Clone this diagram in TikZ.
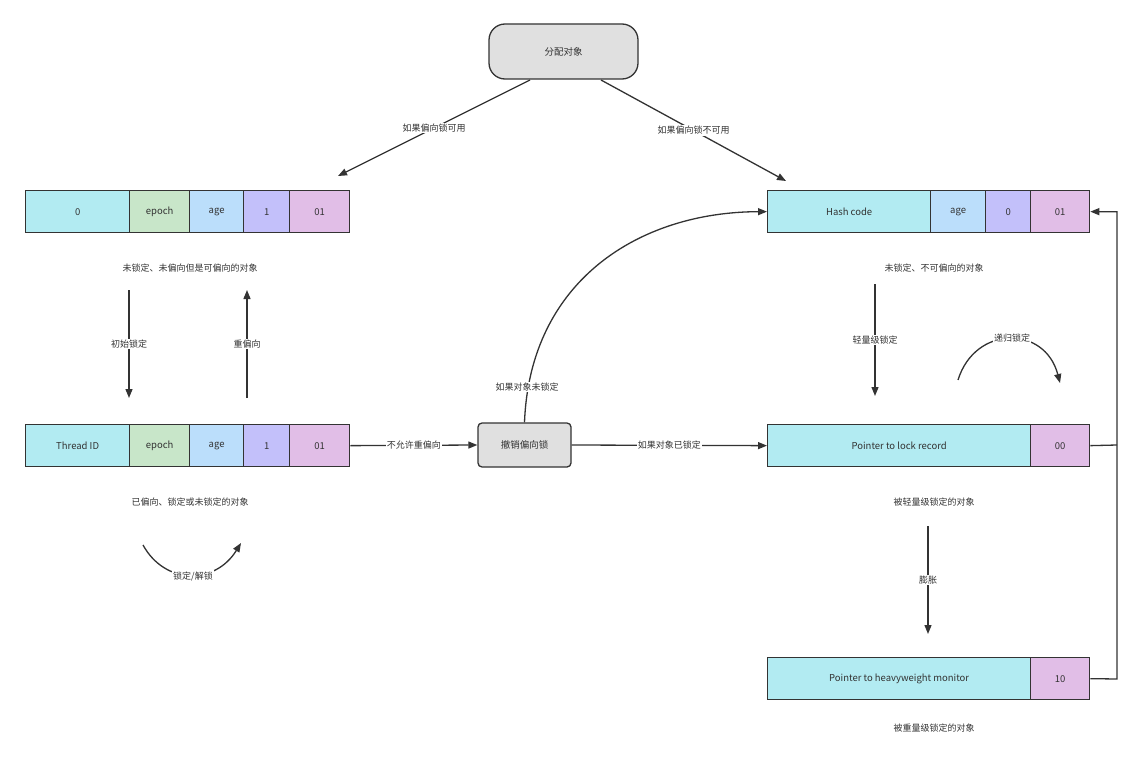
\documentclass[tikz,border=0pt]{standalone}
\usepackage{fontspec}
\setmainfont{Noto Sans CJK SC}
\usetikzlibrary{arrows.meta}
\definecolor{cc}{HTML}{B2EBF2}\definecolor{cg}{HTML}{C8E6C9}\definecolor{cb}{HTML}{BBDEFB}
\definecolor{cp}{HTML}{C3C0FA}\definecolor{ck}{HTML}{E1BEE7}\definecolor{ln}{HTML}{333333}
\begin{document}
\begin{tikzpicture}[x=1pt,y=-1pt,font=\fontsize{9.5}{11}\selectfont,text=ln,
  cell/.style={draw=ln,line width=1.3pt,minimum height=42pt,inner sep=0pt,anchor=north west},
  arr/.style={draw=ln,line width=1.3pt,-{Triangle[length=9pt,width=7pt]}},
  lab/.style={fill=white,inner sep=1pt,font=\fontsize{9}{11}\selectfont},
  txt/.style={font=\fontsize{9}{11}\selectfont}]
\useasboundingbox (0,0) rectangle (1143,773);
\newcommand\cl[5]{\node[cell,fill=#5,minimum width=#3pt] (#1) at (#2) {#4};}
% row 1 left
\cl{a1}{25,190}{104}{0}{cc}\cl{a2}{129,190}{60}{epoch}{cg}\cl{a3}{189,190}{54}{age}{cb}\cl{a4}{243,190}{46}{1}{cp}\cl{a5}{289,190}{60}{01}{ck}
\cl{b1}{25,424}{104}{Thread ID}{cc}\cl{b2}{129,424}{60}{epoch}{cg}\cl{b3}{189,424}{54}{age}{cb}\cl{b4}{243,424}{46}{1}{cp}\cl{b5}{289,424}{60}{01}{ck}
\cl{c1}{767,190}{163}{Hash code}{cc}\cl{c2}{930,190}{55}{age}{cb}\cl{c3}{985,190}{45}{0}{cp}\cl{c4}{1030,190}{59}{01}{ck}
\cl{d1}{767,424}{263}{Pointer to lock record}{cc}\cl{d2}{1030,424}{59}{00}{ck}
\cl{e1}{767,657}{263}{Pointer to heavyweight monitor}{cc}\cl{e2}{1030,657}{59}{10}{ck}
\node[draw=ln,line width=1.3pt,fill=black!12,rounded corners=16pt,minimum width=149pt,minimum height=55pt,inner sep=0pt] (top) at (563.5,51.5) {分配对象};
\node[draw=ln,line width=1.3pt,fill=black!12,rounded corners=4pt,minimum width=93pt,minimum height=44pt,inner sep=0pt] (rev) at (524.5,445) {撤销偏向锁};
\node[txt] (t1) at (190,268) {未锁定、未偏向但是可偏向的对象};
\node[txt] (t2) at (190,502) {已偏向、锁定或未锁定的对象};
\node[txt] (t3) at (934,268) {未锁定、不可偏向的对象};
\node[txt] (t4) at (934,502) {被轻量级锁定的对象};
\node[txt] (t5) at (934,728) {被重量级锁定的对象};
\coordinate (p1) at (530,80);\coordinate (p2) at (338,176);
\coordinate (p3) at (601,80);\coordinate (p4) at (786,181);
\draw[arr] (p1) -- node[lab]{如果偏向锁可用} (p2);
\draw[arr] (p3) -- node[lab]{如果偏向锁不可用} (p4);
\coordinate (q1) at (129,290);\coordinate (q2) at (129,398);
\coordinate (q3) at (247,398);\coordinate (q4) at (247,290);
\draw[arr] (q1) -- node[lab]{初始锁定} (q2);
\draw[arr] (q3) -- node[lab]{重偏向} (q4);
\coordinate (s1) at (143,545);\coordinate (s2) at (241,543);
\draw[arr] (s1) .. controls (165,585) and (215,585) .. (s2);
\node[lab] at (193,576) {锁定/解锁};
\draw[arr] (b5.east) -- node[lab]{不允许重偏向} (rev.west);
\draw[arr] (rev.east) -- node[lab]{如果对象已锁定} (d1.west);
\draw[arr] (rev.north) .. controls (530,280) and (640,212) .. (c1.west);
\node[lab] at (527,387) {如果对象未锁定};
\coordinate (r1) at (875,284);\coordinate (r2) at (875,396);
\draw[arr] (r1) -- node[lab]{轻量级锁定} (r2);
\coordinate (u1) at (958,380);\coordinate (u2) at (1060,383);
\draw[arr] (u1) .. controls (975,325) and (1045,325) .. (u2);
\node[lab] at (1012,338) {递归锁定};
\coordinate (v1) at (928,526);\coordinate (v2) at (928,634);
\draw[arr] (v1) -- node[lab]{膨胀} (v2);
\coordinate (w) at (1117,445);
\draw[draw=ln,line width=1.3pt] (d2.east) -- (w);
\draw[arr] (e2.east) -- (1117,679) |- (c4.east);
\end{tikzpicture}
\end{document}
